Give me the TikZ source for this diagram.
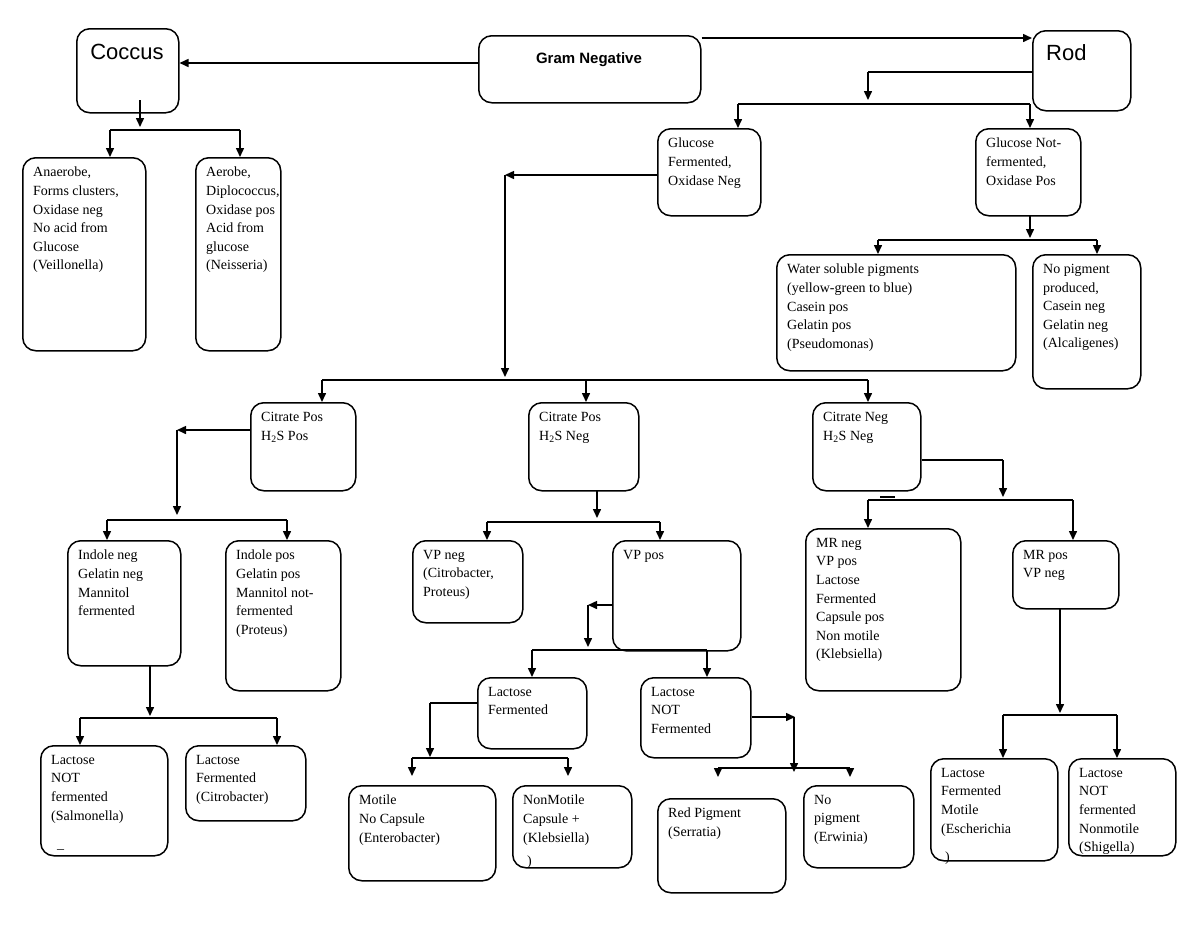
\documentclass[tikz,border=0pt]{standalone}
\usepackage{fontspec}
\setmainfont{Liberation Serif}
\newfontfamily\cs{Liberation Sans}
\usetikzlibrary{arrows.meta}
\begin{document}
\begin{tikzpicture}[x=1pt,y=-1pt,
  box/.style={draw,line width=1.5pt,rounded corners=13pt,anchor=north west,inner sep=0pt},
  txt/.style={anchor=north west,inner sep=0pt,align=left,font=\fontsize{14}{18.6}\selectfont},
  ar/.style={line width=1.5pt,-{Triangle[length=9pt,width=8pt]}},
  ln/.style={line width=1.5pt}]
\useasboundingbox (0,0) rectangle (1200,927);
\newcommand\bx[6]{\node[box,minimum width=#4pt,minimum height=#5pt] (#1) at (#2,#3) {};
  \node[txt] (#1t) at (#2+11,#3+10) {#6};}
\node[box,minimum width=102pt,minimum height=84pt] (coc) at (76,28) {};
\node[anchor=north,inner sep=0pt,font=\cs\fontsize{22}{24}\selectfont] (coct) at (127,44) {Coccus};
\node[box,minimum width=222pt,minimum height=67pt] (gn) at (478,35) {};
\node[anchor=north,inner sep=0pt,font=\cs\bfseries\fontsize{15}{18}\selectfont] (gnt) at (589,52) {Gram Negative};
\node[box,minimum width=98pt,minimum height=80pt] (rod) at (1032,30) {};
\node[anchor=north west,inner sep=0pt,font=\cs\fontsize{22}{24}\selectfont] (rodt) at (1046,44) {Rod};
\bx{ana}{22}{157}{123}{193}{Anaerobe,\\Forms clusters,\\Oxidase neg\\No acid from\\Glucose\\(Veillonella)}
\bx{aer}{195}{157}{85}{193}{Aerobe,\\Diplococcus,\\Oxidase pos\\Acid from\\glucose\\ (Neisseria)}
\bx{gf}{657}{128}{103}{87}{Glucose\\Fermented,\\Oxidase Neg}
\bx{gnf}{975}{128}{105}{87}{Glucose Not-\\fermented,\\Oxidase Pos}
\bx{ws}{776}{254}{239}{116}{Water soluble pigments\\(yellow-green to blue)\\Casein pos\\Gelatin pos\\(Pseudomonas)}
\bx{np}{1032}{254}{108}{134}{No pigment\\produced,\\Casein neg\\Gelatin neg\\(Alcaligenes)}
\bx{cpp}{250}{402}{105}{88}{Citrate Pos\\H\textsubscript{2}S Pos}
\bx{cpn}{528}{402}{110}{88}{Citrate Pos\\H\textsubscript{2}S Neg}
\bx{cnn}{812}{402}{108}{88}{Citrate Neg\\H\textsubscript{2}S Neg}
\bx{ineg}{67}{540}{113}{125}{Indole neg\\Gelatin neg\\Mannitol\\fermented}
\bx{ipos}{225}{540}{115}{150}{Indole pos\\Gelatin pos\\Mannitol not-\\fermented\\(Proteus)}
\bx{vpn}{412}{540}{110}{82}{VP neg\\(Citrobacter,\\Proteus)}
\bx{vpp}{612}{540}{128}{110}{VP pos}
\bx{mrn}{805}{528}{155}{162}{MR neg\\VP pos\\Lactose\\Fermented\\Capsule pos\\Non motile\\(Klebsiella)}
\bx{mrp}{1012}{540}{106}{68}{MR pos\\VP neg}
\bx{lf}{477}{677}{109}{71}{Lactose\\Fermented}
\bx{lnf}{640}{677}{110}{80}{Lactose\\NOT\\Fermented}
\bx{sal}{40}{745}{127}{110}{Lactose\\NOT\\fermented\\(Salmonella)}
\bx{cit}{185}{745}{120}{75}{Lactose\\Fermented\\(Citrobacter)}
\bx{mot}{348}{785}{147}{95}{Motile\\No Capsule\\(Enterobacter)}
\bx{nmot}{512}{785}{119}{82}{NonMotile\\Capsule +\\(Klebsiella)}
\bx{red}{657}{798}{128}{94}{Red Pigment\\(Serratia)}
\bx{nop}{803}{785}{110}{82}{No\\pigment\\(Erwinia)}
\bx{esc}{930}{758}{127}{102}{Lactose\\Fermented\\Motile\\(Escherichia}
\bx{shi}{1068}{758}{107}{97}{Lactose\\NOT\\fermented\\Nonmotile\\(Shigella)}
\node[txt] (m1) at (527,856) {)};
\node[txt] (m2) at (945,852) {)};
\node[txt] (m3) at (57,848) {\_};
% connectors
\draw[ar] (gn.west |- 0,63) -- (coc.east |- 0,63);
\draw[ar] (gn.north east |- 0,38) -- (rod.west |- 0,38);
\draw[ln] (rod.west |- 0,72) -- (868,72);
\draw[ar] (868,72) -- (868,100);
\draw[ln] (738,104) -- (1030,104);
\draw[ar] (738,104) -- (gf.north -| 738,0);
\draw[ar] (1030,104) -- (gnf.north -| 1030,0);
\draw[ar] (140,100) -- (140,127);
\draw[ln] (110,130) -- (240,130);
\draw[ar] (110,130) -- (ana.north -| 110,0);
\draw[ar] (240,130) -- (aer.north -| 240,0);
\draw[ar] (gf.west |- 0,175) -- (505,175);
\draw[ar] (505,175) -- (505,377);
\draw[ln] (322,380) -- (868,380);
\draw[ar] (322,380) -- (cpp.north -| 322,0);
\draw[ar] (586,380) -- (cpn.north -| 586,0);
\draw[ar] (868,380) -- (cnn.north -| 868,0);
\draw[ar] (1030,215) -- (1030,238);
\draw[ln] (878,240) -- (1097,240);
\draw[ar] (878,240) -- (ws.north -| 878,0);
\draw[ar] (1097,240) -- (np.north -| 1097,0);
\draw[ar] (cpp.west |- 0,430) -- (177,430);
\draw[ar] (177,430) -- (177,515);
\draw[ln] (107,520) -- (287,520);
\draw[ar] (107,520) -- (ineg.north -| 107,0);
\draw[ar] (287,520) -- (ipos.north -| 287,0);
\draw[ar] (597,490) -- (597,518);
\draw[ln] (487,522) -- (660,522);
\draw[ar] (487,522) -- (vpn.north -| 487,0);
\draw[ar] (660,522) -- (vpp.north -| 660,0);
\draw[ln] (cnn.east |- 0,460) -- (1003,460);
\draw[ar] (1003,460) -- (1003,497);
\draw[ln] (868,500) -- (1073,500);
\draw[ln] (880,497) -- (895,497);
\draw[ar] (868,500) -- (mrn.north -| 868,0);
\draw[ar] (1073,500) -- (mrp.north -| 1073,0);
\draw[ar] (vpp.west |- 0,605) -- (588,605);
\draw[ar] (588,605) -- (588,647);
\draw[ln] (532,650) -- (707,650);
\draw[ar] (532,650) -- (lf.north -| 532,0);
\draw[ar] (707,650) -- (lnf.north -| 707,0);
\draw[ln] (lf.west |- 0,703) -- (430,703);
\draw[ar] (430,703) -- (430,757);
\draw[ln] (412,758) -- (568,758);
\draw[ar] (412,758) -- (412,776);
\draw[ar] (568,758) -- (568,776);
\draw[ar] (lnf.east |- 0,717) -- (795,717);
\draw[ar] (794,717) -- (794,772);
\draw[ln] (718,768) -- (850,768);
\draw[ar] (718,768) -- (718,777);
\draw[ar] (850,768) -- (850,777);
\draw[ar] (150,665) -- (150,716);
\draw[ln] (80,718) -- (277,718);
\draw[ar] (80,718) -- (sal.north -| 80,0);
\draw[ar] (277,718) -- (cit.north -| 277,0);
\draw[ar] (1060,608) -- (1060,713);
\draw[ln] (1003,715) -- (1117,715);
\draw[ar] (1003,715) -- (esc.north -| 1003,0);
\draw[ar] (1117,715) -- (shi.north -| 1117,0);
\end{tikzpicture}
\end{document}
